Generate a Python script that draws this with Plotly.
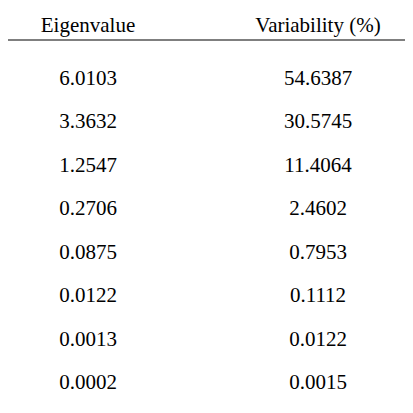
import plotly.graph_objects as go

headers = ["Eigenvalue", "", "Variability (%)"]
eigenvalues = ["6.0103", "3.3632", "1.2547", "0.2706", "0.0875", "0.0122", "0.0013", "0.0002"]
variability = ["54.6387", "30.5745", "11.4064", "2.4602", "0.7953", "0.1112", "0.0122", "0.0015"]
spacer = [""] * len(eigenvalues)

font = dict(family="Liberation Serif", size=21, color="black")

fig = go.Figure(go.Table(
    columnwidth=[160, 47, 206],
    header=dict(values=headers, align="center", height=53, font=font,
                fill_color="white", line_color="white"),
    cells=dict(values=[eigenvalues, spacer, variability], align="center", height=43.5,
               font=font, fill_color="white", line_color="white"),
    domain=dict(x=[0, 1], y=[0, 1]),
))

fig.add_shape(type="line", xref="paper", yref="paper", x0=0, x1=1,
              y0=1 - 32 / 413, y1=1 - 32 / 413, line=dict(color="black", width=1.2))

fig.update_layout(width=413, height=413, margin=dict(l=0, r=0, t=0, b=0),
                  paper_bgcolor="white", plot_bgcolor="white")

fig.write_html("out.html")
